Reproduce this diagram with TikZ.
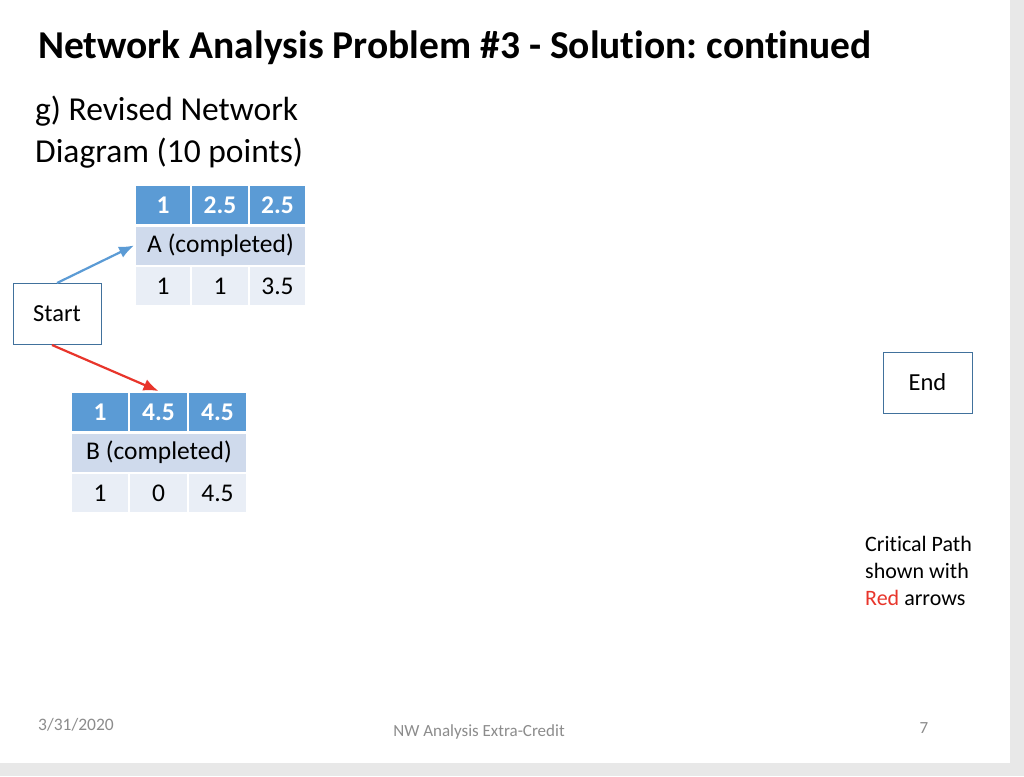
\documentclass[tikz,border=0pt]{standalone}
\usepackage{fontspec}
\setmainfont[Ligatures=NoCommon]{Carlito}
\usetikzlibrary{arrows.meta}
\definecolor{hdblue}{HTML}{5B9BD5}
\definecolor{midblue}{HTML}{CFDAEC}
\definecolor{lowblue}{HTML}{E9EEF6}
\definecolor{boxline}{HTML}{41719C}
\definecolor{critred}{HTML}{E8352B}
\definecolor{footgray}{HTML}{8C8C8C}
\frenchspacing
\begin{document}
\begin{tikzpicture}[x=1pt,y=-1pt]
		\tikzset{cell/.style = {draw=white,line width=2pt,inner sep=0pt,minimum height=40pt,font=\fontsize{25.5}{30}\selectfont}}
		\tikzset{head/.style = {cell,fill=hdblue,text=white,font=\fontsize{25.5}{30}\selectfont\bfseries}}
		\tikzset{mid/.style = {cell,fill=midblue}}
		\tikzset{low/.style = {cell,fill=lowblue}}
		\tikzset{endbox/.style = {draw=boxline,line width=1pt,fill=white,inner sep=0pt,font=\fontsize{24.5}{28}\selectfont}}
		\tikzset{edge/.style = {-{Latex[length=15pt,width=12pt]},line width=2.2pt}}
		\useasboundingbox (0,0) rectangle (1024,776);
		\fill[gray!18] (0,0) rectangle (1024,776);
		\fill[white] (0,0) rectangle (1010,763);
		% title and heading
		\node[anchor=base west,inner sep=0pt,font=\fontsize{39.5}{46}\selectfont\bfseries] (title) at (38,59) {Network Analysis Problem \#3 - Solution: continued};
		\node[anchor=base west,inner sep=0pt,font=\fontsize{33.5}{40}\selectfont] (sub1) at (35,120) {g) Revised Network};
		\node[anchor=base west,inner sep=0pt,font=\fontsize{33.5}{40}\selectfont] (sub2) at (35,162) {Diagram (10 points)};
		% activity A
		\node[head,minimum width=56pt] (a1) at (163,205) {1};
		\node[head,minimum width=58pt] (a2) at (220,205) {2.5};
		\node[head,minimum width=57pt] (a3) at (277.5,205) {2.5};
		\node[mid,minimum width=171pt] (aname) at (220.5,245.5) {A (completed)};
		\node[low,minimum width=56pt] (a4) at (163,286) {1};
		\node[low,minimum width=58pt] (a5) at (220,286) {1};
		\node[low,minimum width=57pt] (a6) at (277.5,286) {3.5};
		% activity B
		\node[head,minimum width=58pt] (b1) at (100,412) {1};
		\node[head,minimum width=59pt] (b2) at (158.5,412) {4.5};
		\node[head,minimum width=59pt] (b3) at (217.5,412) {4.5};
		\node[mid,minimum width=176pt] (bname) at (159,452.5) {B (completed)};
		\node[low,minimum width=58pt] (b4) at (100,493) {1};
		\node[low,minimum width=59pt] (b5) at (158.5,493) {0};
		\node[low,minimum width=59pt] (b6) at (217.5,493) {4.5};
		% start and end
		\node[endbox,minimum width=88pt,minimum height=61pt] (start) at (57,314) {Start};
		\node[endbox,minimum width=89pt,minimum height=61pt] (end) at (927.5,382.5) {End};
		\draw[edge,hdblue] (start.north) -- (aname.west);
		\draw[edge,critred] ([xshift=-5pt]start.south) -- (b2.north);
		% note and footer
		\node[anchor=base west,inner sep=0pt,align=left,font=\fontsize{22}{27}\selectfont] (note) at (865,605) {Critical Path\\shown with\\\textcolor{critred}{Red} arrows};
		\node[anchor=base west,inner sep=0pt,text=footgray,font=\fontsize{17.5}{20}\selectfont] (date) at (38,730) {3/31/2020};
		\node[anchor=base,inner sep=0pt,text=footgray,font=\fontsize{17}{20}\selectfont] (foot) at (479,736) {NW Analysis Extra-Credit};
		\node[anchor=base,inner sep=0pt,text=footgray,font=\fontsize{17}{20}\selectfont] (page) at (924,733) {7};
	\end{tikzpicture}
\end{document}
